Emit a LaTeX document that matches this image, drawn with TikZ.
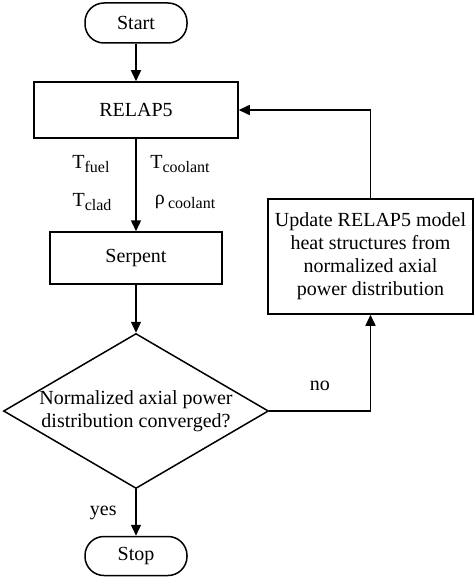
\documentclass[tikz,border=0pt]{standalone}
\usepackage{fontspec}
\setmainfont{Liberation Serif}
\usetikzlibrary{shapes.geometric,arrows.meta}
\newcommand{\lowtxt}[1]{\raisebox{-4pt}{\fontsize{16}{18}\selectfont #1}}
\begin{document}
\begin{tikzpicture}[x=1pt,y=-1pt]
% Estilos
\tikzset{
  terminal/.style={rectangle, draw, rounded corners=19pt, minimum width=102pt, minimum height=40pt, line width=1.5pt},
  process/.style={rectangle, draw, line width=1.5pt, align=center},
  decision/.style={diamond, draw, line width=1.5pt, aspect=1.71, minimum width=265pt, minimum height=155pt, inner sep=0pt, inner xsep=-30pt, align=center},
  label/.style={inner sep=0pt},
  >={Triangle[length=11pt,width=10pt]}
}
\fontsize{20}{23}\selectfont
\useasboundingbox (0,0) rectangle (474,578);

% Inicio
\node[terminal] (start) at (136,23) {Start};

% Modelos
\node[process, minimum width=204pt, minimum height=56pt] (relap) at (136,110) {RELAP5};
\node[process, minimum width=172pt, minimum height=52pt] (serpent) at (136,258) {Serpent};

% Decisao
\node[decision] (converged) at (136,411) {Normalized axial power\\distribution converged?};

% Atualizacao
\node[process, minimum width=205pt, minimum height=115pt] (update) at (370.5,256.5) {Update RELAP5 model\\heat structures from\\normalized axial\\power distribution};

% Fim
\node[terminal, minimum height=39pt] (stop) at (136,556) {Stop};

% Variaveis transferidas
\node[label] (tfuel) at (91,164) {T\lowtxt{fuel}};
\node[label] (tclad) at (92,202) {T\lowtxt{clad}};
\node[label] (tcool) at (180,164) {T\lowtxt{coolant}};
\node[label] (rhocool) at (185,202) {ρ\,\lowtxt{coolant}};

% Ligacoes
\draw[->, line width=1.5pt] (start) -- (relap);
\draw[->, line width=1.5pt] (relap) -- (serpent);
\draw[->, line width=1.5pt] (serpent) -- (converged);
\draw[->, line width=1.5pt] (converged) -- node[left=12pt] (yes) {yes} (stop);
\draw[->, line width=1.5pt] (converged.east) -| node[pos=0.25, above=13pt] (no) {no} (update.south);
\draw[->, line width=1.5pt] (update.north) |- (relap.east);

\end{tikzpicture}
\end{document}
